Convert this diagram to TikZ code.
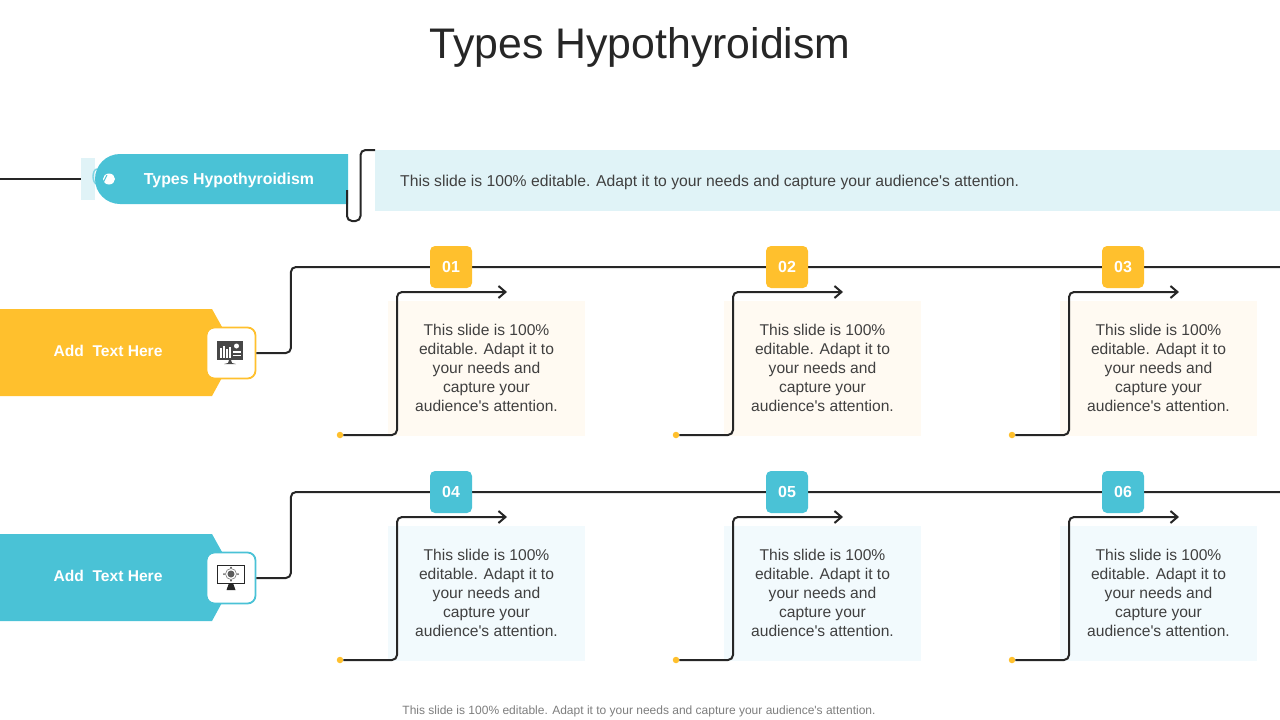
\documentclass[tikz,border=0pt]{standalone}
\usepackage{fontspec}
\setmainfont{Liberation Sans}[Ligatures=TeXOff]
\usetikzlibrary{arrows.meta,shapes.misc}
\definecolor{sun}{HTML}{FFC02D}
\definecolor{sea}{HTML}{4AC2D6}
\definecolor{ink}{HTML}{262626}
\definecolor{txt}{HTML}{404040}
\definecolor{sunpale}{HTML}{FFFAF2}
\definecolor{seapale}{HTML}{F2FAFD}
\definecolor{bandpale}{HTML}{E0F3F7}
\tikzset{
  wire/.style={draw=ink,line width=2pt,rounded corners=5pt},
  badge/.style={fill=#1,rounded corners=5pt,minimum size=42pt,inner sep=0pt,text=white,font=\fontsize{16}{19}\bfseries\selectfont},
  card/.style={fill=#1,minimum width=197pt,minimum height=135pt,inner sep=0pt,align=center,text=txt,font=\fontsize{15.6}{19}\selectfont},
  iconbox/.style={draw=#1,fill=white,line width=1.8pt,rounded corners=8pt,minimum width=49pt,minimum height=51pt,inner sep=0pt},
  dot/.style={circle,fill=sun,minimum size=6.5pt,inner sep=0pt},
  bannertext/.style={text=white,font=\fontsize{15.6}{19}\bfseries\selectfont},
}
\begin{document}
\begin{tikzpicture}[x=1pt,y=-1pt]
  \useasboundingbox (0,0) rectangle (1280,720);
  \node[text=ink,font=\fontsize{42.8}{50}\selectfont] (title) at (640,47) {Types Hypothyroidism};
  % top band
  \node[fill=bandpale,minimum height=61pt,minimum width=905pt,inner sep=0pt,anchor=west] (band) at (375,180.5) {};
  \node[text=txt,font=\fontsize{15.7}{19}\selectfont,anchor=west,inner sep=0pt] (bandtext) at (400,182) {This slide is 100\% editable. Adapt it to your needs and capture your audience's attention.};
  \node[fill=bandpale,minimum width=14pt,minimum height=42pt,inner sep=0pt] (stub) at (88,179) {};
  \coordinate (lead) at (0,179);
  \draw[wire] (lead) -- (stub);
  \draw[sea!70,line width=1.4pt] (97,184) arc (90:270:4 and 7.5);
  \node[rounded rectangle,rounded rectangle right arc=none,fill=sea,minimum width=253pt,minimum height=50pt,inner sep=0pt] (tag) at (221.5,179) {};
  \fill[white] (109,179) ellipse (6pt and 5.5pt);
  \draw[sea,line width=1pt] (103,183) -- (107,175);
  \node[text=white,font=\fontsize{15.9}{19}\bfseries\selectfont] (tagtext) at (229,180.5) {Types Hypothyroidism};
  \coordinate (hookA) at (347,190);
  \coordinate (hookB) at (375,150);
  \draw[wire] (hookA) -- (347,221) -- (360.5,221) -- (360.5,150) -- (hookB);
  % rows
  \fill[sun] (0,309) -- (212,309) -- (236,352) -- (212,396) -- (0,396) -- cycle;
  \fill[sea] (0,534) -- (212,534) -- (236,577) -- (212,621) -- (0,621) -- cycle;
  \node[bannertext] (left1) at (108,351) {Add\ \ Text Here};
  \node[bannertext] (left2) at (108,576) {Add\ \ Text Here};
  \node[iconbox=sun] (icon1) at (231,353) {};
  \node[iconbox=sea] (icon2) at (231,578) {};
  \coordinate (rail1) at (1280,267);
  \coordinate (rail2) at (1280,492);
  \draw[wire] (icon1.east) -- ++(34.5,0) |- (rail1);
  \draw[wire] (icon2.east) -- ++(34.5,0) |- (rail2);
  % first icon
  \fill[ink!85] (217,341) rectangle (243,360);
  \fill[ink!85] (229,360) -- (231,360) -- (232,363) -- (236,364) -- (224,364) -- (228,363) -- cycle;
  \fill[white] (220,348) rectangle (221.5,358);
  \fill[white] (223,346) rectangle (224.5,358);
  \fill[white] (226,349) rectangle (227.5,358);
  \fill[white] (229,347) rectangle (230.5,358);
  \fill[white] (236.5,346) circle (2.5pt);
  \fill[white] (233,351) rectangle (241,352.5);
  \fill[white] (233,354.5) rectangle (241,356);
  % second icon
  \draw[ink,line width=.8pt] (217.5,565.5) rectangle (244.5,583);
  \fill[ink] (229,583) -- (233,583) -- (235.5,590) -- (226.5,590) -- cycle;
  \fill[ink!75] (231,574) circle (3.5pt);
  \draw[ink!60,line width=.6pt] (231,574) circle (5.5pt);
  \fill[ink!75] (231,567.5) circle (1pt);
  \fill[ink!75] (231,580.5) circle (1pt);
  \fill[ink!75] (224,574) circle (1pt);
  \fill[ink!75] (238,574) circle (1pt);
  % cards
  \node[card=sunpale] (c1) at (486.5,368) {This slide is 100\%\\editable. Adapt it to\\your needs and\\capture your\\audience's attention.};
  \node[card=sunpale] (c2) at (822.5,368) {This slide is 100\%\\editable. Adapt it to\\your needs and\\capture your\\audience's attention.};
  \node[card=sunpale] (c3) at (1158.5,368) {This slide is 100\%\\editable. Adapt it to\\your needs and\\capture your\\audience's attention.};
  \node[card=seapale] (c4) at (486.5,593) {This slide is 100\%\\editable. Adapt it to\\your needs and\\capture your\\audience's attention.};
  \node[card=seapale] (c5) at (822.5,593) {This slide is 100\%\\editable. Adapt it to\\your needs and\\capture your\\audience's attention.};
  \node[card=seapale] (c6) at (1158.5,593) {This slide is 100\%\\editable. Adapt it to\\your needs and\\capture your\\audience's attention.};
  % card arrows
  \node[dot] (d1) at (340,435) {};
  \node[dot] (d2) at (676,435) {};
  \node[dot] (d3) at (1012,435) {};
  \node[dot] (d4) at (340,660) {};
  \node[dot] (d5) at (676,660) {};
  \node[dot] (d6) at (1012,660) {};
  \coordinate (t1) at (507,292);
  \coordinate (t2) at (843,292);
  \coordinate (t3) at (1179,292);
  \coordinate (t4) at (507,517);
  \coordinate (t5) at (843,517);
  \coordinate (t6) at (1179,517);
  \draw[wire,-{Straight Barb[length=7pt,width=12pt]}] (d1) -- ++(57,0) |- (t1);
  \draw[wire,-{Straight Barb[length=7pt,width=12pt]}] (d2) -- ++(57,0) |- (t2);
  \draw[wire,-{Straight Barb[length=7pt,width=12pt]}] (d3) -- ++(57,0) |- (t3);
  \draw[wire,-{Straight Barb[length=7pt,width=12pt]}] (d4) -- ++(57,0) |- (t4);
  \draw[wire,-{Straight Barb[length=7pt,width=12pt]}] (d5) -- ++(57,0) |- (t5);
  \draw[wire,-{Straight Barb[length=7pt,width=12pt]}] (d6) -- ++(57,0) |- (t6);
  % badges
  \node[badge=sun] (b1) at (451,267) {01};
  \node[badge=sun] (b2) at (787,267) {02};
  \node[badge=sun] (b3) at (1123,267) {03};
  \node[badge=sea] (b4) at (451,492) {04};
  \node[badge=sea] (b5) at (787,492) {05};
  \node[badge=sea] (b6) at (1123,492) {06};
  \node[text=ink!60,font=\fontsize{12}{14}\selectfont] (foot) at (639,711) {This slide is 100\% editable. Adapt it to your needs and capture your audience's attention.};
\end{tikzpicture}
\end{document}
